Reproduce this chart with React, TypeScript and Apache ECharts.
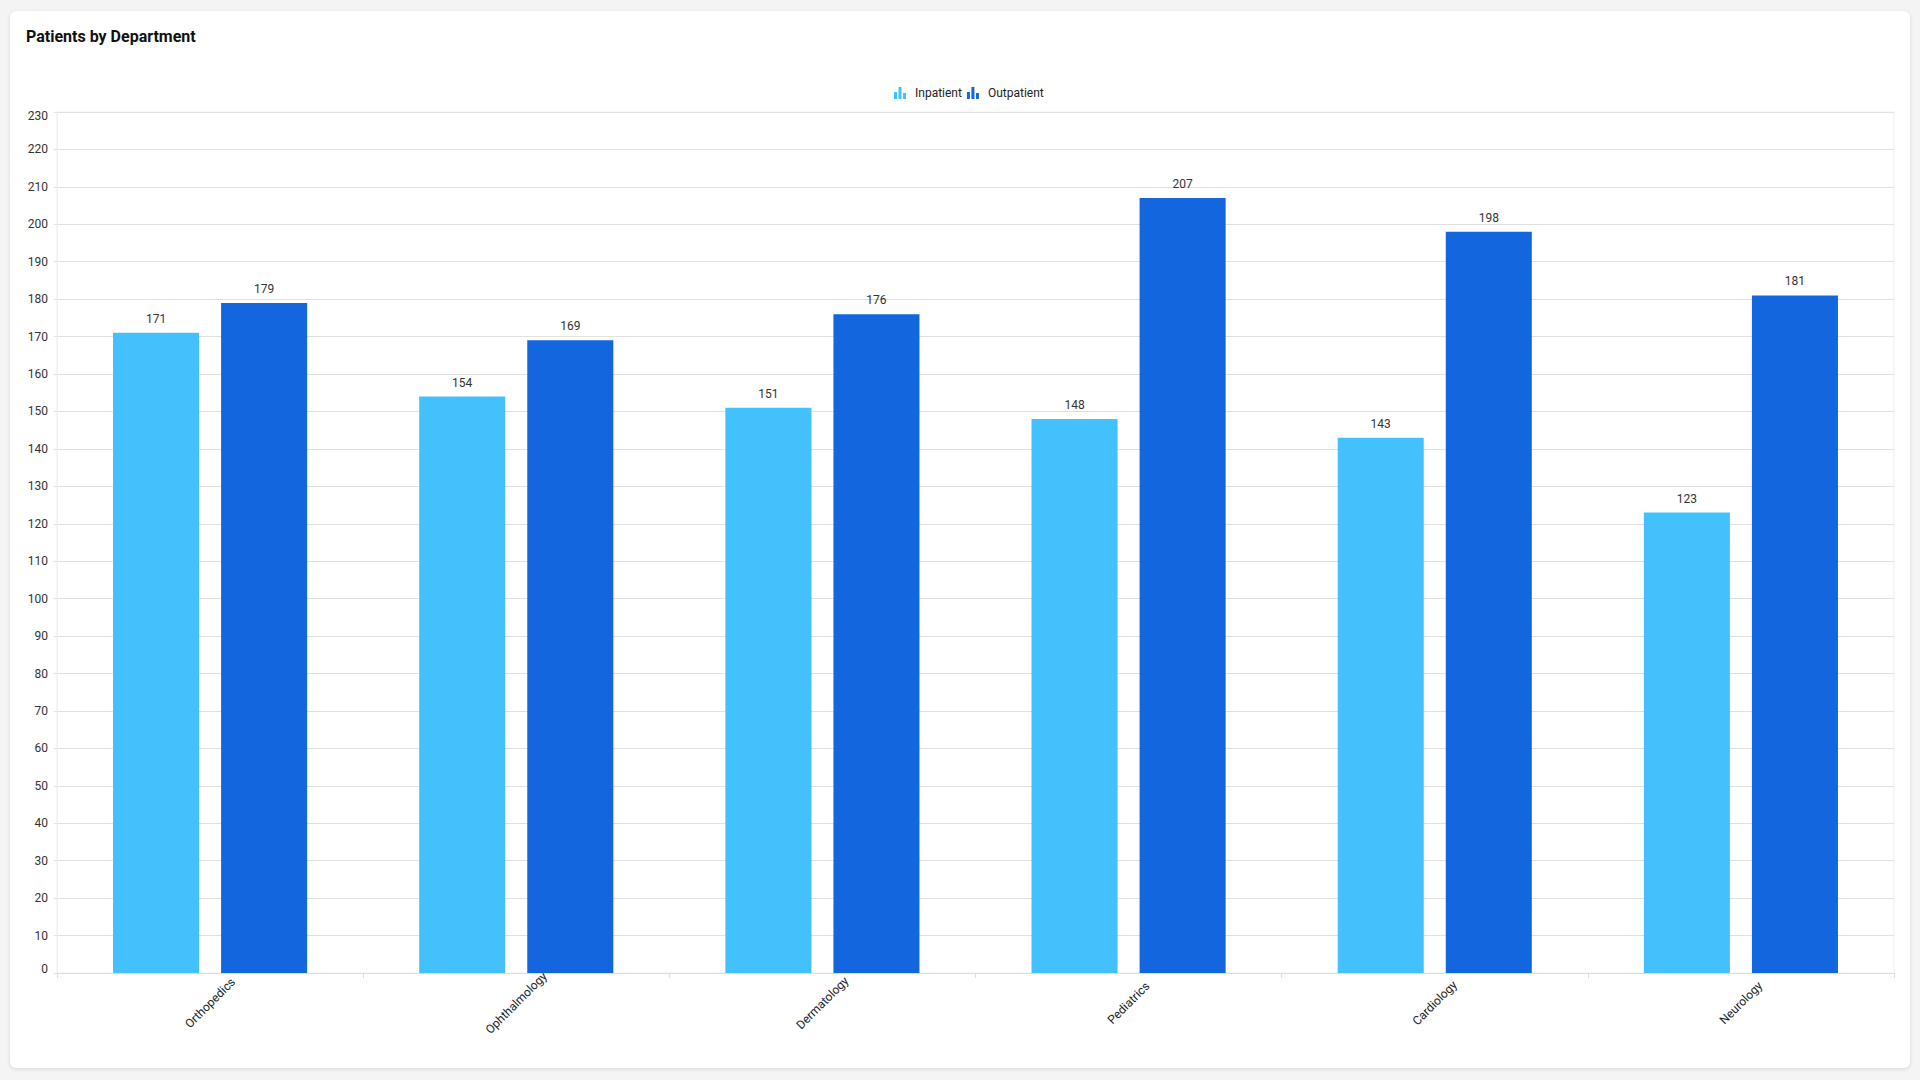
import React, { useEffect, useRef } from "react";
import * as echarts from "echarts";

const categories = ["Orthopedics", "Ophthalmology", "Dermatology", "Pediatrics", "Cardiology", "Neurology"];
const inpatient = [171, 154, 151, 148, 143, 123];
const outpatient = [179, 169, 176, 207, 198, 181];
const seriesNames = ["Inpatient", "Outpatient"];
const yMin = 0;
const yMax = 230;
const yStep = 10;

const ICON = "path://M0,5H3V12H0Z M4.5,0H7.5V12H4.5Z M9,6H12V12H9Z";

export default function App() {
  const ref = useRef<HTMLDivElement>(null);
  useEffect(() => {
    if (!ref.current) return;
    const chart = echarts.init(ref.current, undefined, { renderer: "svg" });
    const labelStyle = {
      show: true,
      position: "top" as const,
      distance: 8,
      fontSize: 12,
      color: "#333",
      fontFamily: "Roboto",
    };
    chart.setOption({
      animation: false,
      textStyle: { fontFamily: "Roboto" },
      title: {
        text: "Patients by Department",
        left: 11,
        top: 12,
        textStyle: { fontSize: 16, fontWeight: "bold", color: "#111", fontFamily: "Roboto" },
      },
      legend: {
        data: seriesNames.map((n) => ({ name: n, icon: ICON })),
        left: 879,
        top: 71,
        itemWidth: 12,
        itemHeight: 12,
        itemGap: 5,
        textStyle: { fontSize: 12, color: "#222", padding: [0, 0, 0, 4], fontFamily: "Roboto" },
      },
      grid: {
        left: 47,
        right: 16,
        top: 101,
        bottom: 95,
        show: true,
        borderColor: "#f0f0f0",
        borderWidth: 1,
      },
      xAxis: {
        type: "category",
        data: categories,
        axisLine: { show: true, lineStyle: { color: "#dddddd" } },
        axisTick: { show: true, length: 5, lineStyle: { color: "#dddddd" } },
        axisLabel: {
          rotate: 45,
          align: "center",
          verticalAlign: "middle",
          margin: 30,
          fontSize: 12,
          color: "#222",
          fontFamily: "Roboto",
        },
      },
      yAxis: {
        type: "value",
        min: yMin,
        max: yMax,
        interval: yStep,
        axisLine: { show: true, lineStyle: { color: "#f0f0f0" } },
        axisTick: { show: true, length: 3, lineStyle: { color: "#e0e0e0" } },
        splitLine: { show: true, lineStyle: { color: "#e0e0e0" } },
        axisLabel: {
          fontSize: 12,
          color: "#333",
          margin: 9,
          fontFamily: "Roboto",
          formatter: (v: number) =>
            v === yMax ? `{top|${v}}` : v === yMin ? `{bot|${v}}` : `${v}`,
          rich: {
            top: { fontSize: 12, color: "#333", padding: [8, 0, 0, 0], fontFamily: "Roboto" },
            bot: { fontSize: 12, color: "#333", padding: [0, 0, 8, 0], fontFamily: "Roboto" },
          },
        },
      },
      series: [
        {
          name: seriesNames[0],
          type: "bar",
          data: inpatient,
          itemStyle: { color: "#42C1FC" },
          barGap: "25.6%",
          barCategoryGap: "36.6%",
          label: labelStyle,
        },
        {
          name: seriesNames[1],
          type: "bar",
          data: outpatient,
          itemStyle: { color: "#1466DE" },
          barGap: "25.6%",
          barCategoryGap: "36.6%",
          label: labelStyle,
        },
      ],
    });
    return () => chart.dispose();
  }, []);

  return (
    <div style={{ position: "fixed", inset: 0, background: "#f4f4f4" }}>
      <div
        style={{
          position: "absolute",
          left: 10,
          top: 11,
          width: 1900,
          height: 1057,
          background: "#fff",
          borderRadius: 6,
          boxShadow: "0 1px 4px rgba(0,0,0,0.12)",
        }}
      >
        <div ref={ref} style={{ width: 1900, height: 1057 }} />
      </div>
    </div>
  );
}
